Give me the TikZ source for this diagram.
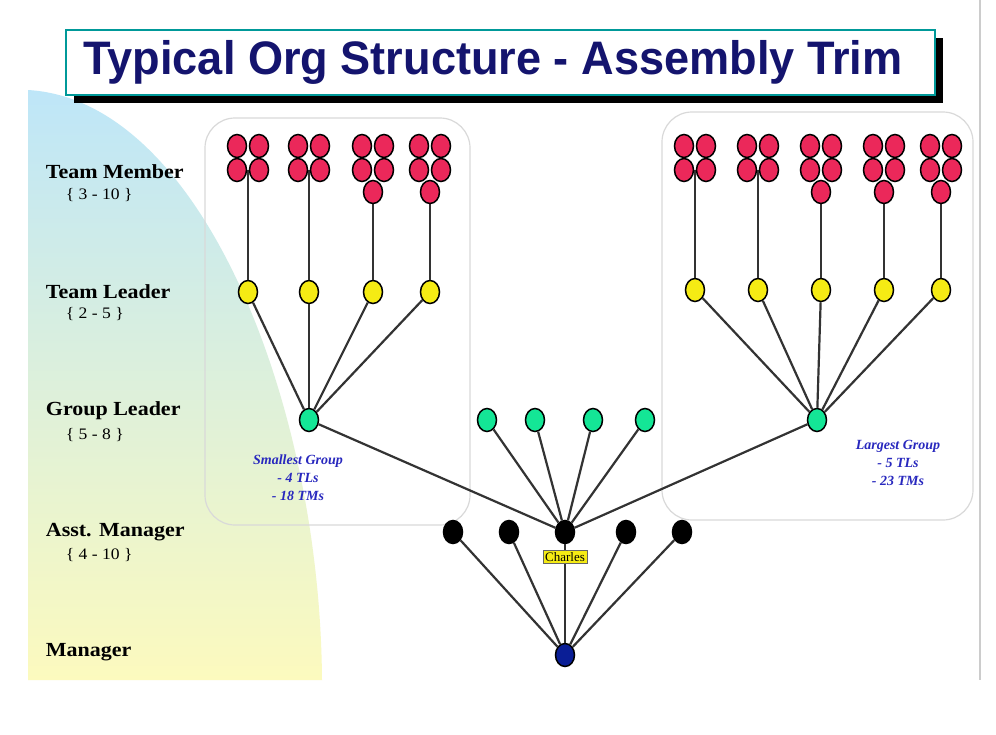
\documentclass[tikz,border=0pt]{standalone}
\usepackage{fontspec}
\setmainfont{Liberation Serif}
\newfontfamily\titlefont{Liberation Sans}
\usetikzlibrary{shapes.geometric,shadows}
\definecolor{navy}{RGB}{20,20,110}
\definecolor{tm}{RGB}{235,40,90}
\definecolor{tl}{RGB}{245,235,20}
\definecolor{gl}{RGB}{20,230,150}
\definecolor{mg}{RGB}{10,30,150}
\definecolor{lab}{RGB}{40,40,190}
\definecolor{sky}{RGB}{190,230,248}
\definecolor{cream}{RGB}{252,250,190}
\begin{document}
\begin{tikzpicture}[x=1pt,y=-1pt,
  dot/.style={ellipse,draw=black,line width=1.5pt,minimum width=19pt,minimum height=23pt,inner sep=0pt},
  tmn/.style={dot,fill=tm},
  tln/.style={dot,fill=tl},
  gln/.style={dot,fill=gl},
  amn/.style={dot,fill=black},
  mgn/.style={dot,fill=mg},
  link/.style={draw=black!80,line width=2.2pt},
  lev/.style={anchor=west,font=\bfseries\fontsize{20}{22}\selectfont,xscale=1.1},
  rng/.style={anchor=west,font=\fontsize{16}{18}\selectfont,xscale=1.1},
  grp/.style={font=\bfseries\itshape\fontsize{14}{18}\selectfont,text=lab,align=center},
  box/.style={draw=black!15,line width=1.2pt,rounded corners=30pt}]
\useasboundingbox (0,0) rectangle (996,734);
\fill[white] (0,0) rectangle (996,734);
% background wedge
\shade[top color=sky,bottom color=cream] (28,680) -- (28,90) .. controls (200,100) and (320,400) .. (322,680) -- cycle;
\draw[black!20,line width=1.5pt] (980,0) -- (980,680);
% title
\fill[black] (74,38) rectangle (943,103);
\node[draw=teal!80!cyan,line width=2pt,fill=white,minimum width=869pt,minimum height=65pt,inner sep=0pt] (title) at (500,62) {};
\node[text=navy,font=\titlefont\bfseries\fontsize{47}{50}\selectfont,xscale=0.96] (tt) at (493,62) {Typical Org Structure - Assembly Trim};
% group boxes
\draw[box] (205,118) rectangle (470,525);
\draw[box] (662,112) rectangle (973,520);
% labels
\node[lev] (l1) at (42,172) {Team Member};
\node[rng] (r1) at (62,195) {\{ 3 - 10 \}};
\node[lev] (l2) at (42,292) {Team Leader};
\node[rng] (r2) at (62,314) {\{ 2 - 5 \}};
\node[lev] (l3) at (42,411) {Group Leader};
\node[rng] (r3) at (62,435) {\{ 5 - 8 \}};
\node[lev] (l4) at (42,532) {Asst. Manager};
\node[rng] (r4) at (62,555) {\{ 4 - 10 \}};
\node[lev] (l5) at (42,652) {Manager};
% nodes
\node[mgn] (mg) at (565,655) {};
\foreach \x [count=\i] in {453,509,565,626,682} \node[amn] (am\i) at (\x,532) {};
\foreach \i in {1,...,5} \draw[link] (am\i) -- (mg);
\foreach \x [count=\i] in {487,535,593,645} {\node[gln] (mgl\i) at (\x,420) {}; \draw[link] (mgl\i) -- (am3);}
\node[gln] (glL) at (309,420) {};
\node[gln] (glR) at (817,420) {};
\draw[link] (glL) -- (am3);
\draw[link] (glR) -- (am3);
\node[draw=black!60,fill=tl,inner sep=2pt,font=\fontsize{13}{14}\selectfont] (ch) at (565,557) {Charles};
% left clusters
\foreach \x/\f [count=\i] in {248/0,309/0,373/1,430/1} {
  \node[tln] (tlL\i) at (\x,292) {};
  \draw[link] (tlL\i) -- (glL);
  \ifnum\f=1 \coordinate (cL\i) at (\x,192); \else \coordinate (cL\i) at (\x,170); \fi
  \draw[link] (tlL\i) -- (cL\i);
  \node[tmn] (tL\i a) at (\x-11,146) {};
  \node[tmn] (tL\i b) at (\x+11,146) {};
  \node[tmn] (tL\i c) at (\x-11,170) {};
  \node[tmn] (tL\i d) at (\x+11,170) {};
  \ifnum\f=1 \node[tmn] (tL\i e) at (\x,192) {}; \fi
}
% right clusters
\foreach \x/\f [count=\i] in {695/0,758/0,821/1,884/1,941/1} {
  \node[tln] (tlR\i) at (\x,290) {};
  \draw[link] (tlR\i) -- (glR);
  \ifnum\f=1 \coordinate (cR\i) at (\x,192); \else \coordinate (cR\i) at (\x,170); \fi
  \draw[link] (tlR\i) -- (cR\i);
  \node[tmn] (tR\i a) at (\x-11,146) {};
  \node[tmn] (tR\i b) at (\x+11,146) {};
  \node[tmn] (tR\i c) at (\x-11,170) {};
  \node[tmn] (tR\i d) at (\x+11,170) {};
  \ifnum\f=1 \node[tmn] (tR\i e) at (\x,192) {}; \fi
}
\node[grp] (sg) at (298,478) {Smallest Group\\- 4 TLs\\- 18 TMs};
\node[grp] (lg) at (898,463) {Largest Group\\- 5 TLs\\- 23 TMs};
\end{tikzpicture}
\end{document}
